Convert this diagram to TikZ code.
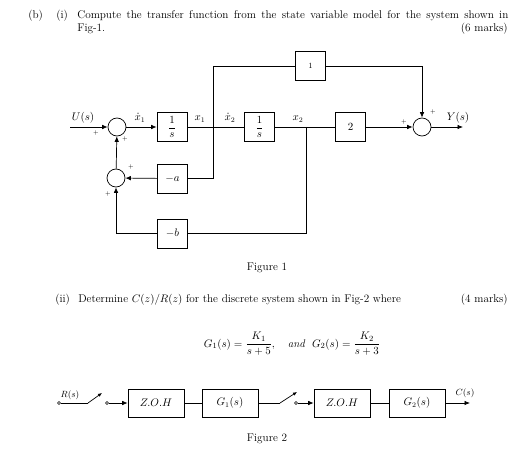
\documentclass[tikz,border=0pt]{standalone}
\usepackage{amsmath}
\usetikzlibrary{arrows.meta}
\begin{document}
\begin{tikzpicture}[x=1pt,y=-1pt,
  line width=0.7pt,
  every node/.style={font=\fontsize{10.5}{12}\selectfont},
  blk/.style={draw,rectangle,minimum width=30pt,minimum height=29pt,inner sep=0pt,font=\fontsize{11}{13}\selectfont},
  zblk/.style={draw,rectangle,minimum width=56pt,minimum height=28pt,inner sep=0pt,font=\fontsize{10.5}{12}\selectfont},
  sumc/.style={draw,circle,minimum size=18pt,inner sep=0pt},
  cont/.style={draw,circle,minimum size=3pt,inner sep=0pt,line width=0.5pt,fill=white},
  arr/.style={-{Latex[length=5.5pt,width=4.5pt]}},
  sgn/.style={font=\fontsize{6}{7}\selectfont,inner sep=0pt},
  lbl/.style={inner sep=0pt,font=\fontsize{10.5}{12}\selectfont},
  txt/.style={anchor=base west,inner sep=0pt,font=\fontsize{11.2}{13}\selectfont}]
\useasboundingbox (0,0) rectangle (518,449);
% header
\node[txt] (hb) at (28,19) {(b)};
\node[txt] (hi) at (56,19) {(i)};
\node[txt] (h1) at (77,19) {\makebox[431pt][s]{Compute the transfer function from the state variable model for the system shown in}};
\node[txt] (h2) at (77,32) {Fig-1.};
\node[txt,anchor=base east] (h3) at (508,32) {(6 marks)};
% figure 1
\node[sumc] (s1) at (117,127) {};
\node[blk] (b1) at (172,127) {$\dfrac{1}{s}$};
\node[blk] (b2) at (259.5,127) {$\dfrac{1}{s}$};
\node[blk] (b3) at (350.5,127) {$2$};
\node[blk,font=\fontsize{8.5}{10}\selectfont] (b0) at (310.5,66) {$1$};
\node[sumc] (s2) at (422,127) {};
\node[sumc] (s3) at (116,178) {};
\node[blk] (ba) at (172.5,178.5) {$-a$};
\node[blk] (bb) at (172.5,233.5) {$-b$};
\coordinate (uin) at (70,127);
\coordinate (yout) at (463,127);
\coordinate (j1) at (213,127);
\coordinate (j1t) at (213,66);
\coordinate (j1b) at (213,178.5);
\coordinate (j2) at (306,127);
\coordinate (j2b) at (306,233.5);
\coordinate (s3b) at (116,233.5);
\coordinate (s2t) at (422,66);
\draw[arr] (uin) -- (s1);
\draw[arr] (s1) -- (b1);
\draw (b1) -- (b2);
\draw (b2) -- (b3);
\draw[arr] (b3) -- (s2);
\draw[arr] (s2) -- (yout);
\draw (j1) -- (j1t) -- (b0);
\draw[arr] (b0) -- (s2t) -- (s2);
\draw (j1) -- (j1b) -- (ba);
\draw[arr] (ba) -- (s3);
\draw (j2) -- (j2b) -- (bb);
\draw[arr] (bb) -- (s3b) -- (s3);
\draw[arr] (s3) -- (s1);
\node[lbl] (lu) at (83,118) {$U(s)$};
\node[lbl] (lx1d) at (140,118) {$\dot{x}_1$};
\node[lbl] (lx1) at (200,119) {$x_1$};
\node[lbl] (lx2d) at (230,118) {$\dot{x}_2$};
\node[lbl] (lx2) at (298,119) {$x_2$};
\node[lbl] (ly) at (458,118) {$Y(s)$};
\node[sgn] (p1) at (96,133) {$+$};
\node[sgn] (p2) at (125,139) {$+$};
\node[sgn] (p3) at (131,167) {$+$};
\node[sgn] (p4) at (108,194) {$+$};
\node[sgn] (p5) at (404,122) {$+$};
\node[sgn] (p6) at (433,112) {$+$};
\node[txt,anchor=base] (f1) at (267,270) {Figure 1};
% part ii
\node[txt] (ii) at (55,302) {(ii)};
\node[txt] (q2) at (78,302) {Determine $C(z)/R(z)$ for the discrete system shown in Fig-2 where};
\node[txt,anchor=base east] (m4) at (508,302) {(4 marks)};
\node[inner sep=0pt,font=\fontsize{11}{13}\selectfont] (eq) at (292,344) {$G_1(s)=\dfrac{K_1}{s+5},\quad \textit{and}\ \ G_2(s)=\dfrac{K_2}{s+3}$};
% figure 2
\node[cont] (r0) at (59,403) {};
\coordinate (sw1a) at (88,403);
\coordinate (sw1b) at (102,393);
\node[cont] (c1) at (107,403) {};
\node[zblk] (z1) at (156,403) {$Z.O.H$};
\node[zblk] (g1) at (230,403) {$G_1(s)$};
\coordinate (sw2a) at (280,403);
\coordinate (sw2b) at (297,392);
\node[cont] (c2) at (296,403) {};
\node[zblk] (z2) at (342,403) {$Z.O.H$};
\node[zblk] (g2) at (417,403) {$G_2(s)$};
\coordinate (cout) at (470,403);
\draw (r0) -- (sw1a);
\draw[-{Latex[length=4pt,width=3.5pt]}] (sw1a) -- (sw1b);
\draw[arr] (c1) -- (z1);
\draw (z1) -- (g1);
\draw (g1) -- (sw2a);
\draw[-{Latex[length=4pt,width=3.5pt]}] (sw2a) -- (sw2b);
\draw[arr] (c2) -- (z2);
\draw (z2) -- (g2);
\draw[arr] (g2) -- (cout);
\node[lbl,font=\fontsize{9.5}{11}\selectfont] (lr) at (70,395) {$R(s)$};
\node[lbl,font=\fontsize{9.5}{11}\selectfont] (lc) at (465,393) {$C(s)$};
\node[txt,anchor=base] (f2) at (267,441) {Figure 2};
\end{tikzpicture}
\end{document}
